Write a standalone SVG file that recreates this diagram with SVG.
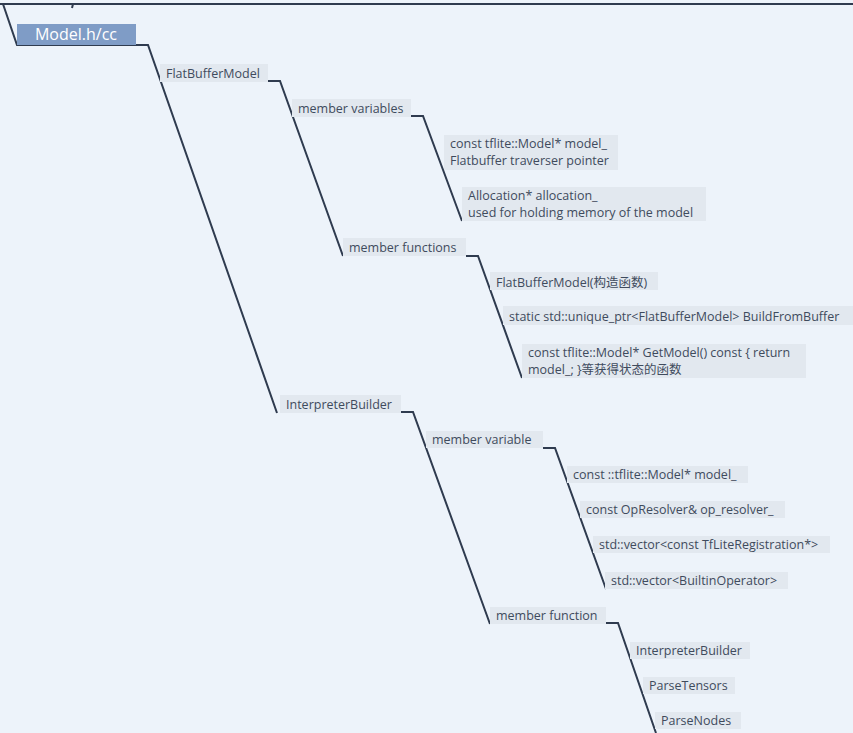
<svg xmlns="http://www.w3.org/2000/svg" width="853" height="733" viewBox="0 0 853 733">
<style>
.bg{fill:#edf3fa}
.n{fill:#e2e8ef}
.t{font-family:"Open Sans","Liberation Sans",sans-serif;font-size:12.5px;fill:#3f4b5d}
.cn{font-family:"Open Sans","Noto Sans CJK SC",sans-serif}
.c{fill:none;stroke:#2f3b4f;stroke-width:2;stroke-linejoin:miter}
</style>
<rect class="bg" width="853" height="733"/>
<g id="connectors">
<path class="c" d="M0 4H853M73 4L72 8"/>
<path class="c" d="M3 4L17 45H148L277 413"/>
<path class="c" d="M268 81H280L343 256"/>
<path class="c" d="M411 116H423L462 221"/>
<path class="c" d="M466 256H478L522 378"/>
<path class="c" d="M401 412H413L490 624"/>
<path class="c" d="M543 448H555L606 589"/>
<path class="c" d="M606 623H618L656 733"/>
</g>
<g id="root"><rect x="17" y="24" width="119" height="21" fill="#7f9cc6"/><text x="76" y="40" text-anchor="middle" font-family="Open Sans,Liberation Sans,sans-serif" font-size="16" fill="#fff">Model.h/cc</text></g>
<g id="fbm"><rect class="n" x="160" y="64" width="108" height="18"/><text class="t" x="166" y="78">FlatBufferModel</text></g>
<g id="mv"><rect class="n" x="292" y="99" width="119" height="18"/><text class="t" x="298" y="113">member variables</text></g>
<g id="model"><rect class="n" x="444" y="135" width="174" height="35"/><text class="t" x="450" y="148">const tflite::Model* model_</text><text class="t" x="450" y="165">Flatbuffer traverser pointer</text></g>
<g id="alloc"><rect class="n" x="462" y="187" width="244" height="34"/><text class="t" x="468" y="200">Allocation* allocation_</text><text class="t" x="468" y="217">used for holding memory of the model</text></g>
<g id="mf"><rect class="n" x="343" y="238" width="123" height="18"/><text class="t" x="349" y="252">member functions</text></g>
<g id="ctor"><rect class="n" x="490" y="272" width="168" height="18"/><text class="t cn" x="496" y="287">FlatBufferModel(构造函数)</text></g>
<g id="build"><rect class="n" x="503" y="306" width="350" height="19"/><text class="t" x="509" y="321">static std::unique_ptr&lt;FlatBufferModel&gt; BuildFromBuffer</text></g>
<g id="getmodel"><rect class="n" x="522" y="344" width="284" height="34"/><text class="t" x="528" y="357">const tflite::Model* GetModel() const { return</text><text class="t cn" x="528" y="374">model_; }等获得状态的函数</text></g>
<g id="ib"><rect class="n" x="280" y="395" width="121" height="18"/><text class="t" x="286" y="409">InterpreterBuilder</text></g>
<g id="mv2"><rect class="n" x="426" y="431" width="117" height="17"/><text class="t" x="432" y="444">member variable</text></g>
<g id="m2"><rect class="n" x="567" y="466" width="181" height="17"/><text class="t" x="573" y="479">const ::tflite::Model* model_</text></g>
<g id="opr"><rect class="n" x="580" y="501" width="205" height="17"/><text class="t" x="586" y="514">const OpResolver&amp; op_resolver_</text></g>
<g id="vec1"><rect class="n" x="593" y="536" width="237" height="17"/><text class="t" x="599" y="549">std::vector&lt;const TfLiteRegistration*&gt;</text></g>
<g id="vec2"><rect class="n" x="605" y="572" width="183" height="17"/><text class="t" x="611" y="585">std::vector&lt;BuiltinOperator&gt;</text></g>
<g id="mf2"><rect class="n" x="490" y="607" width="116" height="17"/><text class="t" x="496" y="620">member function</text></g>
<g id="ib2"><rect class="n" x="630" y="642" width="120" height="17"/><text class="t" x="636" y="655">InterpreterBuilder</text></g>
<g id="pt"><rect class="n" x="643" y="677" width="92" height="17"/><text class="t" x="649" y="690">ParseTensors</text></g>
<g id="pn"><rect class="n" x="655" y="712" width="86" height="17"/><text class="t" x="661" y="725">ParseNodes</text></g>
</svg>
